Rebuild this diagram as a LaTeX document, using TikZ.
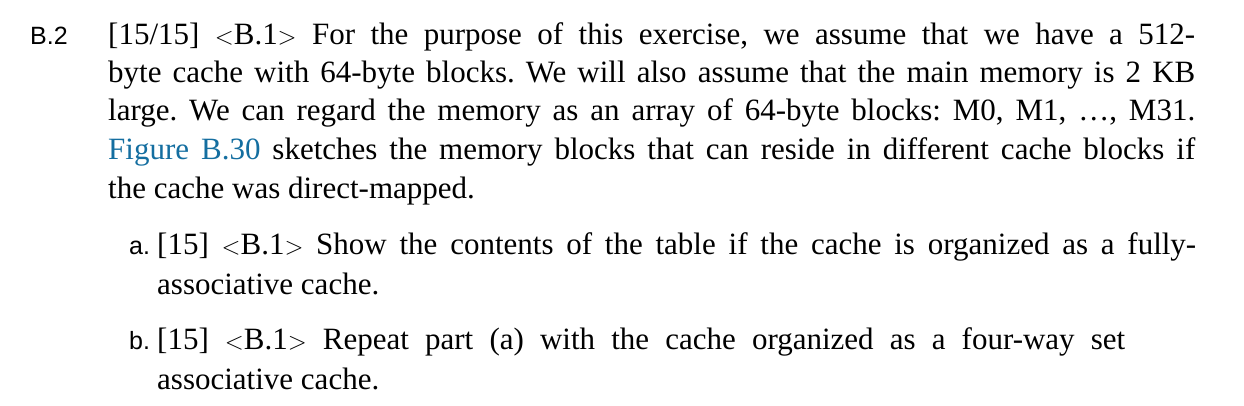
\documentclass[tikz,border=0pt]{standalone}
\usepackage{fontspec}
\setmainfont{Liberation Serif}
\setsansfont{Liberation Sans}
\definecolor{linkc}{RGB}{20,110,160}
\frenchspacing
\begin{document}
\begin{tikzpicture}[x=1pt,y=-1pt,
  ln/.style={anchor=base west,inner sep=0pt,font=\fontsize{31}{37}\selectfont},
  lb/.style={anchor=base west,inner sep=0pt,font=\sffamily\fontsize{25}{30}\selectfont}]
\useasboundingbox (0,0) rectangle (1244,406);
\node[lb] (b2) at (30,45) {B.2};
\node[ln] (l1) at (108,45) {\makebox[1087pt][s]{[15/15] $<$B.1$>$ For the purpose of this exercise, we assume that we have a 512-}};
\node[ln] (l2) at (108,83) {\makebox[1087pt][s]{byte cache with 64-byte blocks. We will also assume that the main memory is 2 KB}};
\node[ln] (l3) at (108,121) {\makebox[1087pt][s]{large. We can regard the memory as an array of 64-byte blocks: M0, M1, \ldots, M31.}};
\node[ln] (l4) at (108,160) {\makebox[1087pt][s]{\textcolor{linkc}{Figure B.30} sketches the memory blocks that can reside in different cache blocks if}};
\node[ln] (l5) at (108,198) {the cache was direct-mapped.};
\node[lb] (a) at (129,254) {a.};
\node[ln] (a1) at (157,254) {\makebox[1039pt][s]{[15] $<$B.1$>$ Show the contents of the table if the cache is organized as a fully-}};
\node[ln] (a2) at (157,294) {associative cache.};
\node[lb] (b) at (129,349) {b.};
\node[ln] (b1) at (157,349) {\makebox[968pt][s]{[15] $<$B.1$>$ Repeat part (a) with the cache organized as a four-way set}};
\node[ln] (b2l) at (157,389) {associative cache.};
\end{tikzpicture}
\end{document}
